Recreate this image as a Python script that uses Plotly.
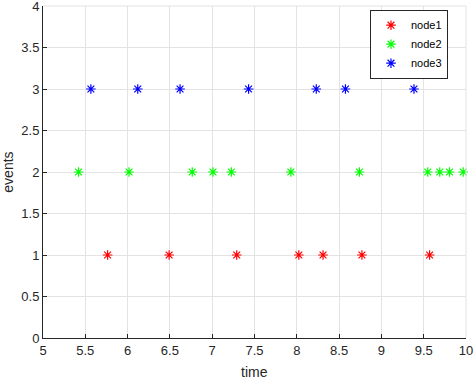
import plotly.graph_objects as go

node1_t = [5.764, 6.491, 7.29, 8.024, 8.31, 8.77, 9.57]
node2_t = [5.42, 6.017, 6.764, 7.009, 7.226, 7.93, 8.74, 9.548, 9.69, 9.805, 9.967]
node3_t = [5.566, 6.12, 6.62, 7.43, 8.23, 8.575, 9.385]
node1_e = [1] * len(node1_t)
node2_e = [2] * len(node2_t)
node3_e = [3] * len(node3_t)

x_ticks = [5, 5.5, 6, 6.5, 7, 7.5, 8, 8.5, 9, 9.5, 10]
x_labels = ["5", "5.5", "6", "6.5", "7", "7.5", "8", "8.5", "9", "9.5", "10"]
y_ticks = [0, 0.5, 1, 1.5, 2, 2.5, 3, 3.5, 4]
y_labels = ["0", "0.5", "1", "1.5", "2", "2.5", "3", "3.5", "4"]

series = [
    ("node1", node1_t, node1_e, "#ff0000"),
    ("node2", node2_t, node2_e, "#00ff00"),
    ("node3", node3_t, node3_e, "#0000ff"),
]

fig = go.Figure()
for name, t, e, c in series:
    fig.add_trace(go.Scatter(
        x=t, y=e, mode="markers", name=name, cliponaxis=False,
        marker=dict(symbol="asterisk-open", size=8, color=c,
                    line=dict(color=c, width=1.2)),
    ))

font = "Liberation Sans, Arial, Helvetica, sans-serif"
axis_common = dict(
    showgrid=True, gridcolor="#e3e3e3", gridwidth=1,
    showline=True, linecolor="#262626", linewidth=1,
    ticks="inside", ticklen=4, tickcolor="#262626",
    zeroline=False, automargin=False, ticklabeloverflow="allow",
)
fig.update_layout(
    width=474, height=379,
    margin=dict(l=43, r=8, t=6, b=41, autoexpand=False),
    paper_bgcolor="white", plot_bgcolor="white",
    font=dict(family=font, size=13, color="#262626"),
    showlegend=True,
    legend=dict(x=0.773, y=0.885, xanchor="left", yanchor="middle",
                bgcolor="white", bordercolor="#262626", borderwidth=1,
                font=dict(size=11, color="#000000"), itemwidth=30,
                tracegroupgap=0),
    xaxis=dict(range=[5, 10], tickmode="array", tickvals=x_ticks,
               ticktext=x_labels, **axis_common),
    yaxis=dict(range=[0, 4], tickmode="array", tickvals=y_ticks,
               ticktext=y_labels, **axis_common),
)
fig.add_annotation(text="time", xref="paper", yref="paper", x=0.5, y=-0.0745,
                   xanchor="center", yanchor="top", showarrow=False,
                   borderpad=0, font=dict(size=14, color="#262626"))
fig.add_annotation(text="events", xref="paper", yref="paper", x=-0.0835, y=0.5,
                   xanchor="center", yanchor="middle", showarrow=False,
                   borderpad=0, textangle=-90, font=dict(size=14, color="#262626"))
fig.add_shape(type="line", xref="paper", yref="paper", x0=0, x1=1, y0=1, y1=1,
              line=dict(color="#e3e3e3", width=1))
fig.add_shape(type="line", xref="paper", yref="paper", x0=1, x1=1, y0=0, y1=1,
              line=dict(color="#e3e3e3", width=1))
fig.write_html("out.html", config={"displayModeBar": False},
               post_script="document.body.style.margin='0';document.body.style.overflow='hidden';")
